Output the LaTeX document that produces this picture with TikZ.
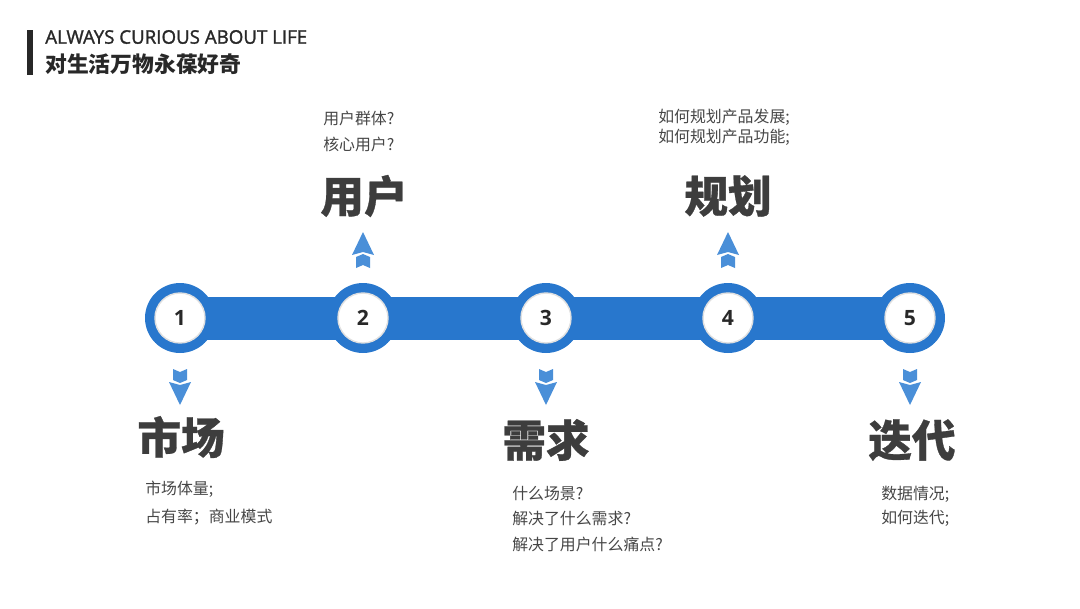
\documentclass[tikz,border=0pt]{standalone}
\usepackage{fontspec}
\setmainfont{Open Sans}
\newfontfamily\engsemi[FakeBold=1.5]{Open Sans}
\newfontfamily\cjk{Noto Sans CJK SC}
\newfontfamily\cjkbig[FakeBold=0.7]{Noto Sans CJK SC}
\usetikzlibrary{calc}
\definecolor{barblue}{RGB}{40,119,205}
\definecolor{arrowblue}{RGB}{74,143,216}
\definecolor{titlegray}{RGB}{40,40,40}
\definecolor{textgray}{RGB}{70,70,70}
\tikzset{
  biglabel/.style={font=\cjkbig\bfseries\fontsize{31}{34}\selectfont, text=titlegray!90, inner sep=0pt},
  notes/.style={font=\cjk\fontsize{11.3}{#1}\selectfont, text=textgray, anchor=west, align=left, inner sep=0pt},
  numdot/.style={circle, fill=white, draw=black!12, line width=1pt, minimum size=1.25cm, inner sep=0pt,
    font=\bfseries\fontsize{15}{17}\selectfont, text=titlegray}
}

\begin{document}
\begin{tikzpicture}[x=0.025cm, y=-0.025cm]
\useasboundingbox (0,0) rectangle (1080,608);

% header
\fill[titlegray] (27,30) rectangle (33,75);
\node[anchor=west, inner sep=0pt, font=\engsemi\fontsize{13.3}{15}\selectfont, text=titlegray] (eng) at (45,37) {ALWAYS CURIOUS ABOUT LIFE};
\node[anchor=west, inner sep=0pt, font=\cjk\bfseries\fontsize{15.5}{18}\selectfont, text=titlegray] (zh) at (45,64) {对生活万物永葆好奇};

% timeline
\fill[barblue] (180,297) rectangle (910,340);
\foreach \x [count=\i] in {180,363,546,728,910} {
  \fill[barblue] (\x,318) circle (35);
  \node[numdot] (c\i) at (\x,318) {\i};
}

% arrows up
\foreach \x in {363,728} {
\begin{scope}[shift={(\x,268)}]
\fill[arrowblue] (0,-36) -- (11,-13) -- (0,-16) -- (-11,-13) -- cycle;
\fill[arrowblue] (-7,-11) -- (0,-14) -- (7,-11) -- (7,0) -- (0,-3) -- (-7,0) -- cycle;
\end{scope}
}
% arrows down
\foreach \x in {180,546,910} {
\begin{scope}[shift={(\x,369)}, yscale=-1]
\fill[arrowblue] (0,-36) -- (11,-13) -- (0,-16) -- (-11,-13) -- cycle;
\fill[arrowblue] (-7,-11) -- (0,-14) -- (7,-11) -- (7,0) -- (0,-3) -- (-7,0) -- cycle;
\end{scope}
}

% titles
\node[biglabel] (user) at (364,196) {用户};
\node[biglabel] (plan) at (728,196) {规划};
\node[biglabel] (market) at (181,437) {市场};
\node[biglabel] (need) at (546,440) {需求};
\node[biglabel] (iter) at (912,440) {迭代};

% notes
\node[notes=19.1] (userq) at (323,131.5) {用户群体?\\核心用户?};
\node[notes=14.2] (planq) at (658,127) {如何规划产品发展;\\如何规划产品功能;};
\node[notes=19.8] (marketq) at (145,503) {市场体量;\\占有率；商业模式};
\node[notes=18.4] (needq) at (512,519) {什么场景?\\解决了什么需求?\\解决了用户什么痛点?};
\node[notes=17] (iterq) at (881,506.5) {数据情况;\\如何迭代;};
\end{tikzpicture}
\end{document}
